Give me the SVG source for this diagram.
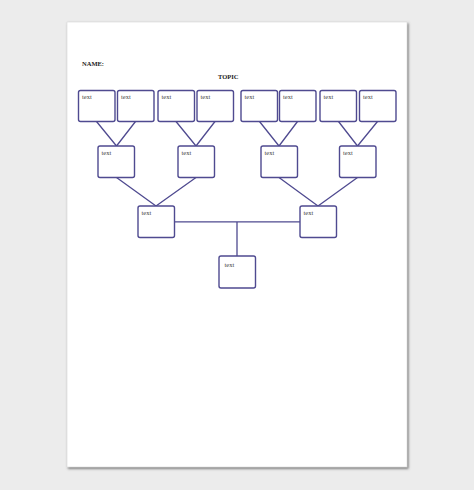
<svg xmlns="http://www.w3.org/2000/svg" width="474" height="490" viewBox="0 0 474 490">
<style>
.box{fill:#fff;stroke:#4f4a90;stroke-width:1.4}
.ln{stroke:#4f4a90;stroke-width:1.3;fill:none}
.t{font-family:"Liberation Serif",serif;font-size:6.5px;fill:#444}
.h{font-family:"Liberation Serif",serif;font-size:6.5px;font-weight:bold;fill:#222}
</style>
<defs>
<filter id="sh" x="-5%" y="-5%" width="110%" height="110%">
<feDropShadow dx="1.2" dy="1.5" stdDeviation="0.8" flood-color="#555" flood-opacity="0.8"/>
</filter>
</defs>
<rect width="474" height="490" fill="#ececec"/>
<rect x="67" y="22" width="340" height="445" fill="#fff" stroke="#d8d8d8" stroke-width="0.6" filter="url(#sh)"/>
<text class="h" x="82" y="65.5">NAME:</text>
<text class="h" x="218" y="78.5">TOPIC</text>
<g id="connectors">
<path class="ln" d="M96.5 121.5L116.5 146M135.5 121.5L116.5 146"/>
<path class="ln" d="M176 121.5L196 146M215 121.5L196 146"/>
<path class="ln" d="M259.5 121.5L279 146M297.5 121.5L279 146"/>
<path class="ln" d="M338.5 121.5L357.5 146M377.5 121.5L357.5 146"/>
<path class="ln" d="M116.5 177.5L156 206M196 177.5L156 206"/>
<path class="ln" d="M279 177.5L318 206M357.5 177.5L318 206"/>
<path class="ln" d="M174.5 221.8H300M237 221.8V256"/>
</g>
<g id="n1"><rect class="box" x="78.5" y="90.5" width="36.5" height="31" rx="2"/><text class="t" x="82" y="99">text</text></g>
<g id="n2"><rect class="box" x="117.5" y="90.5" width="36.5" height="31" rx="2"/><text class="t" x="121" y="99">text</text></g>
<g id="n3"><rect class="box" x="158" y="90.5" width="36.5" height="31" rx="2"/><text class="t" x="161.5" y="99">text</text></g>
<g id="n4"><rect class="box" x="197" y="90.5" width="36.5" height="31" rx="2"/><text class="t" x="200.5" y="99">text</text></g>
<g id="n5"><rect class="box" x="241" y="90.5" width="36.5" height="31" rx="2"/><text class="t" x="244.5" y="99">text</text></g>
<g id="n6"><rect class="box" x="279.5" y="90.5" width="36.5" height="31" rx="2"/><text class="t" x="283" y="99">text</text></g>
<g id="n7"><rect class="box" x="320" y="90.5" width="36.5" height="31" rx="2"/><text class="t" x="323.5" y="99">text</text></g>
<g id="n8"><rect class="box" x="359.5" y="90.5" width="36.5" height="31" rx="2"/><text class="t" x="363" y="99">text</text></g>
<g id="n9"><rect class="box" x="98" y="146" width="36.5" height="31.5" rx="2"/><text class="t" x="101.5" y="154.5">text</text></g>
<g id="n10"><rect class="box" x="178" y="146" width="36.5" height="31.5" rx="2"/><text class="t" x="181.5" y="154.5">text</text></g>
<g id="n11"><rect class="box" x="261" y="146" width="36.5" height="31.5" rx="2"/><text class="t" x="264.5" y="154.5">text</text></g>
<g id="n12"><rect class="box" x="339.5" y="146" width="36.5" height="31.5" rx="2"/><text class="t" x="343" y="154.5">text</text></g>
<g id="n13"><rect class="box" x="138" y="206" width="36.5" height="31.5" rx="2"/><text class="t" x="141.5" y="214.5">text</text></g>
<g id="n14"><rect class="box" x="300" y="206" width="36.5" height="31.5" rx="2"/><text class="t" x="303.5" y="214.5">text</text></g>
<g id="n15"><rect class="box" x="219" y="256" width="36.5" height="32" rx="2"/><text class="t" x="224.5" y="267">text</text></g>
</svg>
